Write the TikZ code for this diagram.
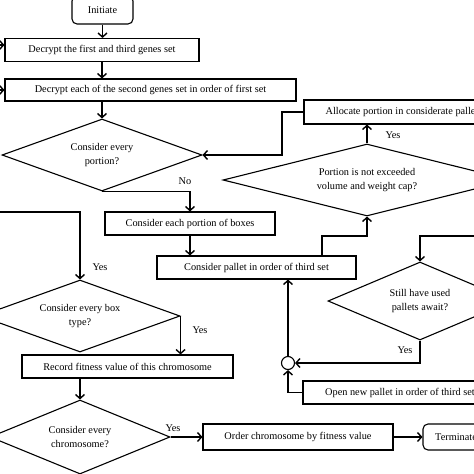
\documentclass[tikz,border=0pt]{standalone}
\usepackage{fontspec}
\setmainfont{Liberation Serif}
\usetikzlibrary{shapes.geometric,arrows.meta,calc}
\begin{document}
\begin{tikzpicture}[x=1pt,y=-1pt,font=\fontsize{10.3}{14.5}\selectfont,
  box/.style={draw,line width=1.1pt,rectangle,inner sep=0pt,minimum height=23pt},
  rbox/.style={box,rounded corners=5pt},
  dia/.style={draw,line width=1.1pt,diamond,inner sep=0pt,align=center},
  conn/.style={line width=1.4pt,-{Straight Barb[length=4pt,width=9pt]}},
  lbl/.style={inner sep=1pt}]
\useasboundingbox (0,0) rectangle (474,474);
\clip (0,0) rectangle (474,474);
% nodes
\node[rbox,minimum width=61pt,minimum height=28pt] (init) at (102.5,10) {\raisebox{-3pt}{Initiate}};
\node[box,minimum width=194pt] (b1) at (102,50) {Decrypt the first and third genes set};
\node[box,minimum width=291pt,minimum height=22pt] (b2) at (150.5,90) {Decrypt each of the second genes set in order of first set};
\node[dia,aspect=2.78,minimum width=200pt,minimum height=72pt] (d1) at (102,155) {Consider every\\portion?};
\node[box,minimum width=196pt,minimum height=24pt] (alloc) at (402,112) {Allocate portion in considerate pallet};
\node[dia,aspect=4,minimum width=288pt,minimum height=72pt] (d2) at (367,180) {Portion is not exceeded\\volume and weight cap?};
\node[box,minimum width=170pt] (each) at (190,223.5) {Consider each portion of boxes};
\node[box,minimum width=199pt] (pallet) at (256.5,267.5) {Consider pallet in order of third set};
\node[dia,aspect=2.36,minimum width=184pt,minimum height=78pt] (d3) at (420,301) {Still have used\\pallets await?};
\node[draw,line width=1.1pt,circle,minimum size=13pt,inner sep=0pt] (c) at (288,363) {};
\node[box,minimum width=194pt] (open) at (400,392.5) {Open new pallet in order of third set};
\node[dia,aspect=2.78,minimum width=200pt,minimum height=72pt] (d4) at (80,316) {Consider every box\\type?};
\node[box,minimum width=211pt] (record) at (127.5,366.5) {Record fitness value of this chromosome};
\node[dia,aspect=2.43,minimum width=180pt,minimum height=74pt] (d5) at (80,437) {Consider every\\chromosome?};
\node[box,minimum width=190pt,minimum height=26pt] (order) at (298,437) {Order chromosome by fitness value};
\node[rbox,minimum width=66pt,minimum height=26pt] (term) at (456,437) {Terminate};
% labels
\node[lbl] (yes1) at (393,135) {Yes};
\node[lbl] (no1) at (185,181) {No};
\node[lbl] (yes2) at (405,350) {Yes};
\node[lbl] (yes3) at (100,267) {Yes};
\node[lbl] (yes4) at (200,330) {Yes};
\node[lbl] (yes5) at (173,428) {Yes};
% coordinates
\coordinate (la1) at (-2,45);
\coordinate (la2) at (-2,90);
\coordinate (k1) at (282,112);
\coordinate (p1) at (322,236);
\coordinate (r1) at (480,236);
\coordinate (l1) at (-5,212);
% connectors
\draw[conn] (init.south) -- (init.south |- b1.north);
\draw[conn] (b1.south) -- (b1.south |- b2.north);
\draw[conn] (d1.north |- b2.south) -- (d1.north);
\draw[conn] (la1) -- (la1 -| b1.west);
\draw[conn] (la2) -- (la2 -| b2.west);
\draw[conn] (alloc.west) -- (k1) |- (d1.east);
\draw[conn] (d2.north) -- (d2.north |- alloc.south);
\draw[conn] (d1.south) -| (each.north);
\draw[conn] (each.south) -- (each.south |- pallet.north);
\draw[conn] (p1 |- pallet.north) -- (p1) -| (d2.south);
\draw[conn] (r1) -| (d3.north);
\draw[conn] (d3.south) |- (c.east);
\draw[conn] (c.north) -- (c.north |- pallet.south);
\draw[conn] (open.west) -| (c.south);
\draw[conn] (l1) -| (d4.north);
\draw[conn] (d4.east) -- (d4.east |- record.north);
\draw[conn] (d5.north |- record.south) -- (d5.north);
\draw[conn] (d5.east) -- (order.west);
\draw[conn] (order.east) -- (term.west);
\end{tikzpicture}
\end{document}
